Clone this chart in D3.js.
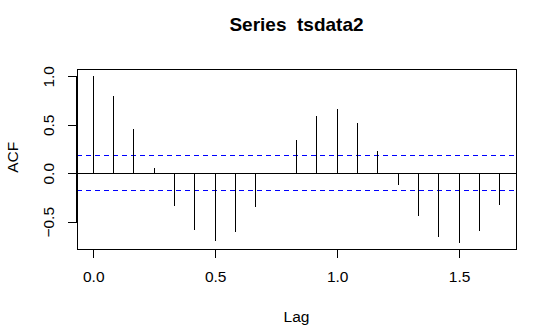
<!DOCTYPE html>
<html><head><meta charset="utf-8">
<script src="https://cdn.jsdelivr.net/npm/d3@7"></script>
<style>body{margin:0;background:#fff}svg{display:block}text{font-family:"Liberation Sans",Arial,sans-serif}</style>
</head><body>
<script>
const lags = d3.range(0, 21).map(i => i / 12);
const acfValues = [1.0, 0.797, 0.457, 0.055, -0.334, -0.581, -0.695, -0.605, -0.344, 0.0,
  0.343, 0.591, 0.663, 0.519, 0.230, -0.117, -0.437, -0.653, -0.715, -0.592, -0.324];
const ciLevel = 0.18;
const xTicks = [0, 0.5, 1.0, 1.5];
const yTicks = [-0.5, 0, 0.5, 1.0];
const title = "Series  tsdata2";

const W = 540, H = 333;
const pL = 77, pR = 516, pT = 69.3, pB = 249.3;
const FS = 15.5;
const svg = d3.select("body").append("svg").attr("width", W).attr("height", H);

const x = d3.scaleLinear().domain([-0.0667, 1.7333]).range([pL, pR]);
const y = d3.scaleLinear().domain([-0.784, 1.072]).range([pB, pT]);

// zero line
svg.append("line").attr("x1", pL).attr("x2", pR).attr("y1", y(0)).attr("y2", y(0))
  .attr("stroke", "#000").attr("stroke-width", 1).attr("shape-rendering", "crispEdges");

// confidence bands
[ciLevel, -ciLevel].forEach(v => {
  svg.append("line").attr("x1", pL).attr("x2", pR).attr("y1", y(v)).attr("y2", y(v))
    .attr("stroke", "#0000ff").attr("stroke-width", 1).attr("stroke-dasharray", "5,4")
    .attr("shape-rendering", "crispEdges");
});

// bars
svg.selectAll("line.bar").data(acfValues).enter().append("line").attr("class", "bar")
  .attr("x1", (d, i) => x(lags[i])).attr("x2", (d, i) => x(lags[i]))
  .attr("y1", y(0)).attr("y2", d => y(d))
  .attr("stroke", "#000").attr("stroke-width", 1).attr("shape-rendering", "crispEdges");

// box
svg.append("rect").attr("x", pL).attr("y", pT).attr("width", pR - pL).attr("height", pB - pT)
  .attr("fill", "none").attr("stroke", "#000").attr("stroke-width", 1).attr("shape-rendering", "crispEdges");

// x axis
const xAxis = d3.axisBottom(x).tickValues(xTicks).tickFormat(d3.format(".1f")).tickSize(9).tickPadding(13);
const gx = svg.append("g").attr("transform", `translate(0,${pB})`).call(xAxis);
gx.select(".domain").attr("d", `M${x(0)},0.5H${x(1.5)}`).attr("shape-rendering", "crispEdges");
gx.selectAll(".tick line").attr("shape-rendering", "crispEdges");
gx.selectAll("text").attr("font-size", FS).attr("fill", "#000").style("font-family", '"Liberation Sans",Arial,sans-serif');

// y axis
const yAxis = d3.axisLeft(y).tickValues(yTicks).tickFormat(d3.format(".1f")).tickSize(9);
const gy = svg.append("g").attr("transform", `translate(${pL},0)`).call(yAxis);
gy.select(".domain").attr("d", `M-0.5,${y(-0.5)}V${y(1.0)}`).attr("shape-rendering", "crispEdges");
gy.selectAll(".tick line").attr("shape-rendering", "crispEdges");
gy.selectAll(".tick text")
  .attr("x", null).attr("dy", null).attr("text-anchor", "middle")
  .attr("transform", "translate(-23,0) rotate(-90)")
  .attr("font-size", FS).attr("fill", "#000").style("font-family", '"Liberation Sans",Arial,sans-serif');

// labels
svg.append("text").attr("x", (pL + pR) / 2).attr("y", 31).attr("text-anchor", "middle")
  .attr("font-size", 19).attr("font-weight", "bold").style("white-space", "pre").text(title);
svg.append("text").attr("x", (pL + pR) / 2).attr("y", 322).attr("text-anchor", "middle")
  .attr("font-size", FS).text("Lag");
svg.append("text").attr("transform", `translate(18,${(pT + pB) / 2 - 2}) rotate(-90)`)
  .attr("text-anchor", "middle").attr("font-size", FS).text("ACF");
</script>
</body></html>
